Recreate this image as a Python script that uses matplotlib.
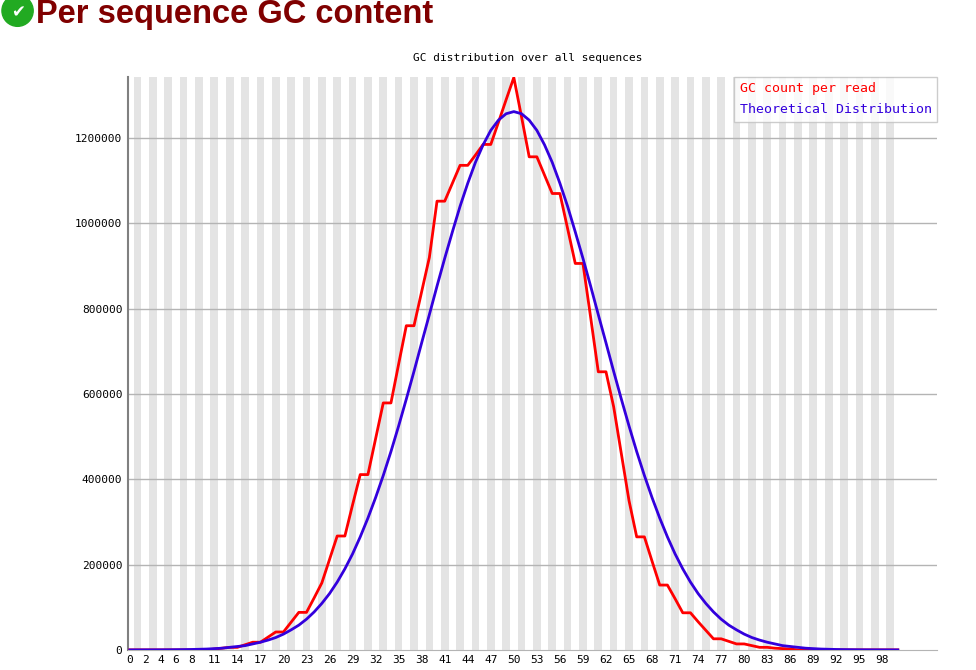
import matplotlib.pyplot as plt
from matplotlib.patches import Ellipse

gc_pct = list(range(101))
gc_count = [0, 0, 0, 0, 0, 0, 0, 0, 0, 0,
            0, 2000, 4000, 6000, 6000, 12000, 18000, 18000, 30000, 42000,
            42000, 65000, 88000, 88000, 122000, 157000, 212000, 267000, 267000, 340000,
            411000, 411000, 495000, 579000, 579000, 670000, 760000, 760000, 840000, 920000,
            1052000, 1052000, 1094000, 1136000, 1136000, 1160000, 1185000, 1185000, 1237000, 1290000,
            1342000, 1250000, 1156000, 1156000, 1113000, 1070000, 1070000, 988000, 906000, 906000,
            780000, 652000, 652000, 570000, 460000, 350000, 265000, 265000, 208000, 152000,
            152000, 120000, 87000, 87000, 66000, 46000, 26000, 26000, 20000, 14000,
            14000, 10000, 6000, 6000, 4000, 3000, 2000, 0, 0, 0,
            0, 0, 0, 0, 0, 0, 0, 0, 0, 0, 0]
theo_half = [1262000, 1257000, 1242000, 1218000, 1184000, 1143000, 1094000, 1040000, 980000, 918000,
             853000, 786000, 720000, 653000, 588000, 525000, 465000, 409000, 357000, 309000,
             265000, 225000, 190000, 159000, 132000, 109000, 89000, 72000, 58000, 47000,
             37000, 29000, 23000, 18000, 14000, 10000, 8000, 6000, 4000, 3000,
             2000, 1500, 1000, 700, 500, 300, 200, 150, 100, 50, 0]
theoretical = theo_half[::-1] + theo_half[1:]
xtick_vals = [0, 2, 4, 6, 8] + list(range(11, 99, 3))
ytick_vals = [0, 200000, 400000, 600000, 800000, 1000000, 1200000]

mono = 'DejaVu Sans Mono'
fig = plt.figure(figsize=(9.76, 6.7), dpi=100)
ax = fig.add_axes([0.131, 0.030, 0.829, 0.855])

for i in range(1, 100, 2):
    ax.axvspan(i - 0.5, i + 0.5, color='#e4e4e4', lw=0, zorder=0)
for y in ytick_vals[1:]:
    ax.axhline(y, color='#b4b4b4', lw=1, zorder=1)

ax.plot(gc_pct, gc_count, color='#ff0000', lw=2, zorder=3, label='GC count per read')
ax.plot(gc_pct, theoretical, color='#3300dd', lw=2, zorder=3, label='Theoretical Distribution')

ax.set_xlim(-0.26, 105.1)
ax.set_ylim(0, 1343000)
ax.set_xticks(xtick_vals)
ax.set_xticklabels([str(v) for v in xtick_vals], fontsize=8, family=mono)
ax.set_yticks(ytick_vals)
ax.set_yticklabels([str(v) for v in ytick_vals], fontsize=8, family=mono)
ax.tick_params(length=0, pad=4)
for s in ['top', 'right']:
    ax.spines[s].set_visible(False)
ax.spines['left'].set_color('#808080')
ax.spines['left'].set_linewidth(1.5)
ax.spines['bottom'].set_color('#b4b4b4')

leg = ax.legend(loc='upper right', prop={'family': mono, 'size': 9.5}, handlelength=0,
                handletextpad=0, frameon=True, fancybox=False, borderpad=0.4,
                borderaxespad=0, labelspacing=0.6, bbox_to_anchor=(1.0, 1.0))
leg.get_frame().set_edgecolor('#c0c0c0')
for t, c in zip(leg.get_texts(), ['#ff0000', '#3300dd']):
    t.set_color(c)
for h in leg.legend_handles:
    h.set_visible(False)

fig.text(0.541, 0.909, 'GC distribution over all sequences', ha='center', fontsize=8, family=mono)
fig.text(0.037, 0.978, 'Per sequence GC content', ha='left', va='center', fontsize=23.5,
         fontweight='bold', color='#800000', family='Liberation Sans')
fig.patches.append(Ellipse((0.018, 0.984), 0.032, 0.032 * 976 / 670, transform=fig.transFigure,
                           color='#22aa22', zorder=5))
fig.text(0.018, 0.982, '\u2714', ha='center', va='center', color='white', fontsize=12, zorder=6)

fig.savefig('out.png', dpi=100)
